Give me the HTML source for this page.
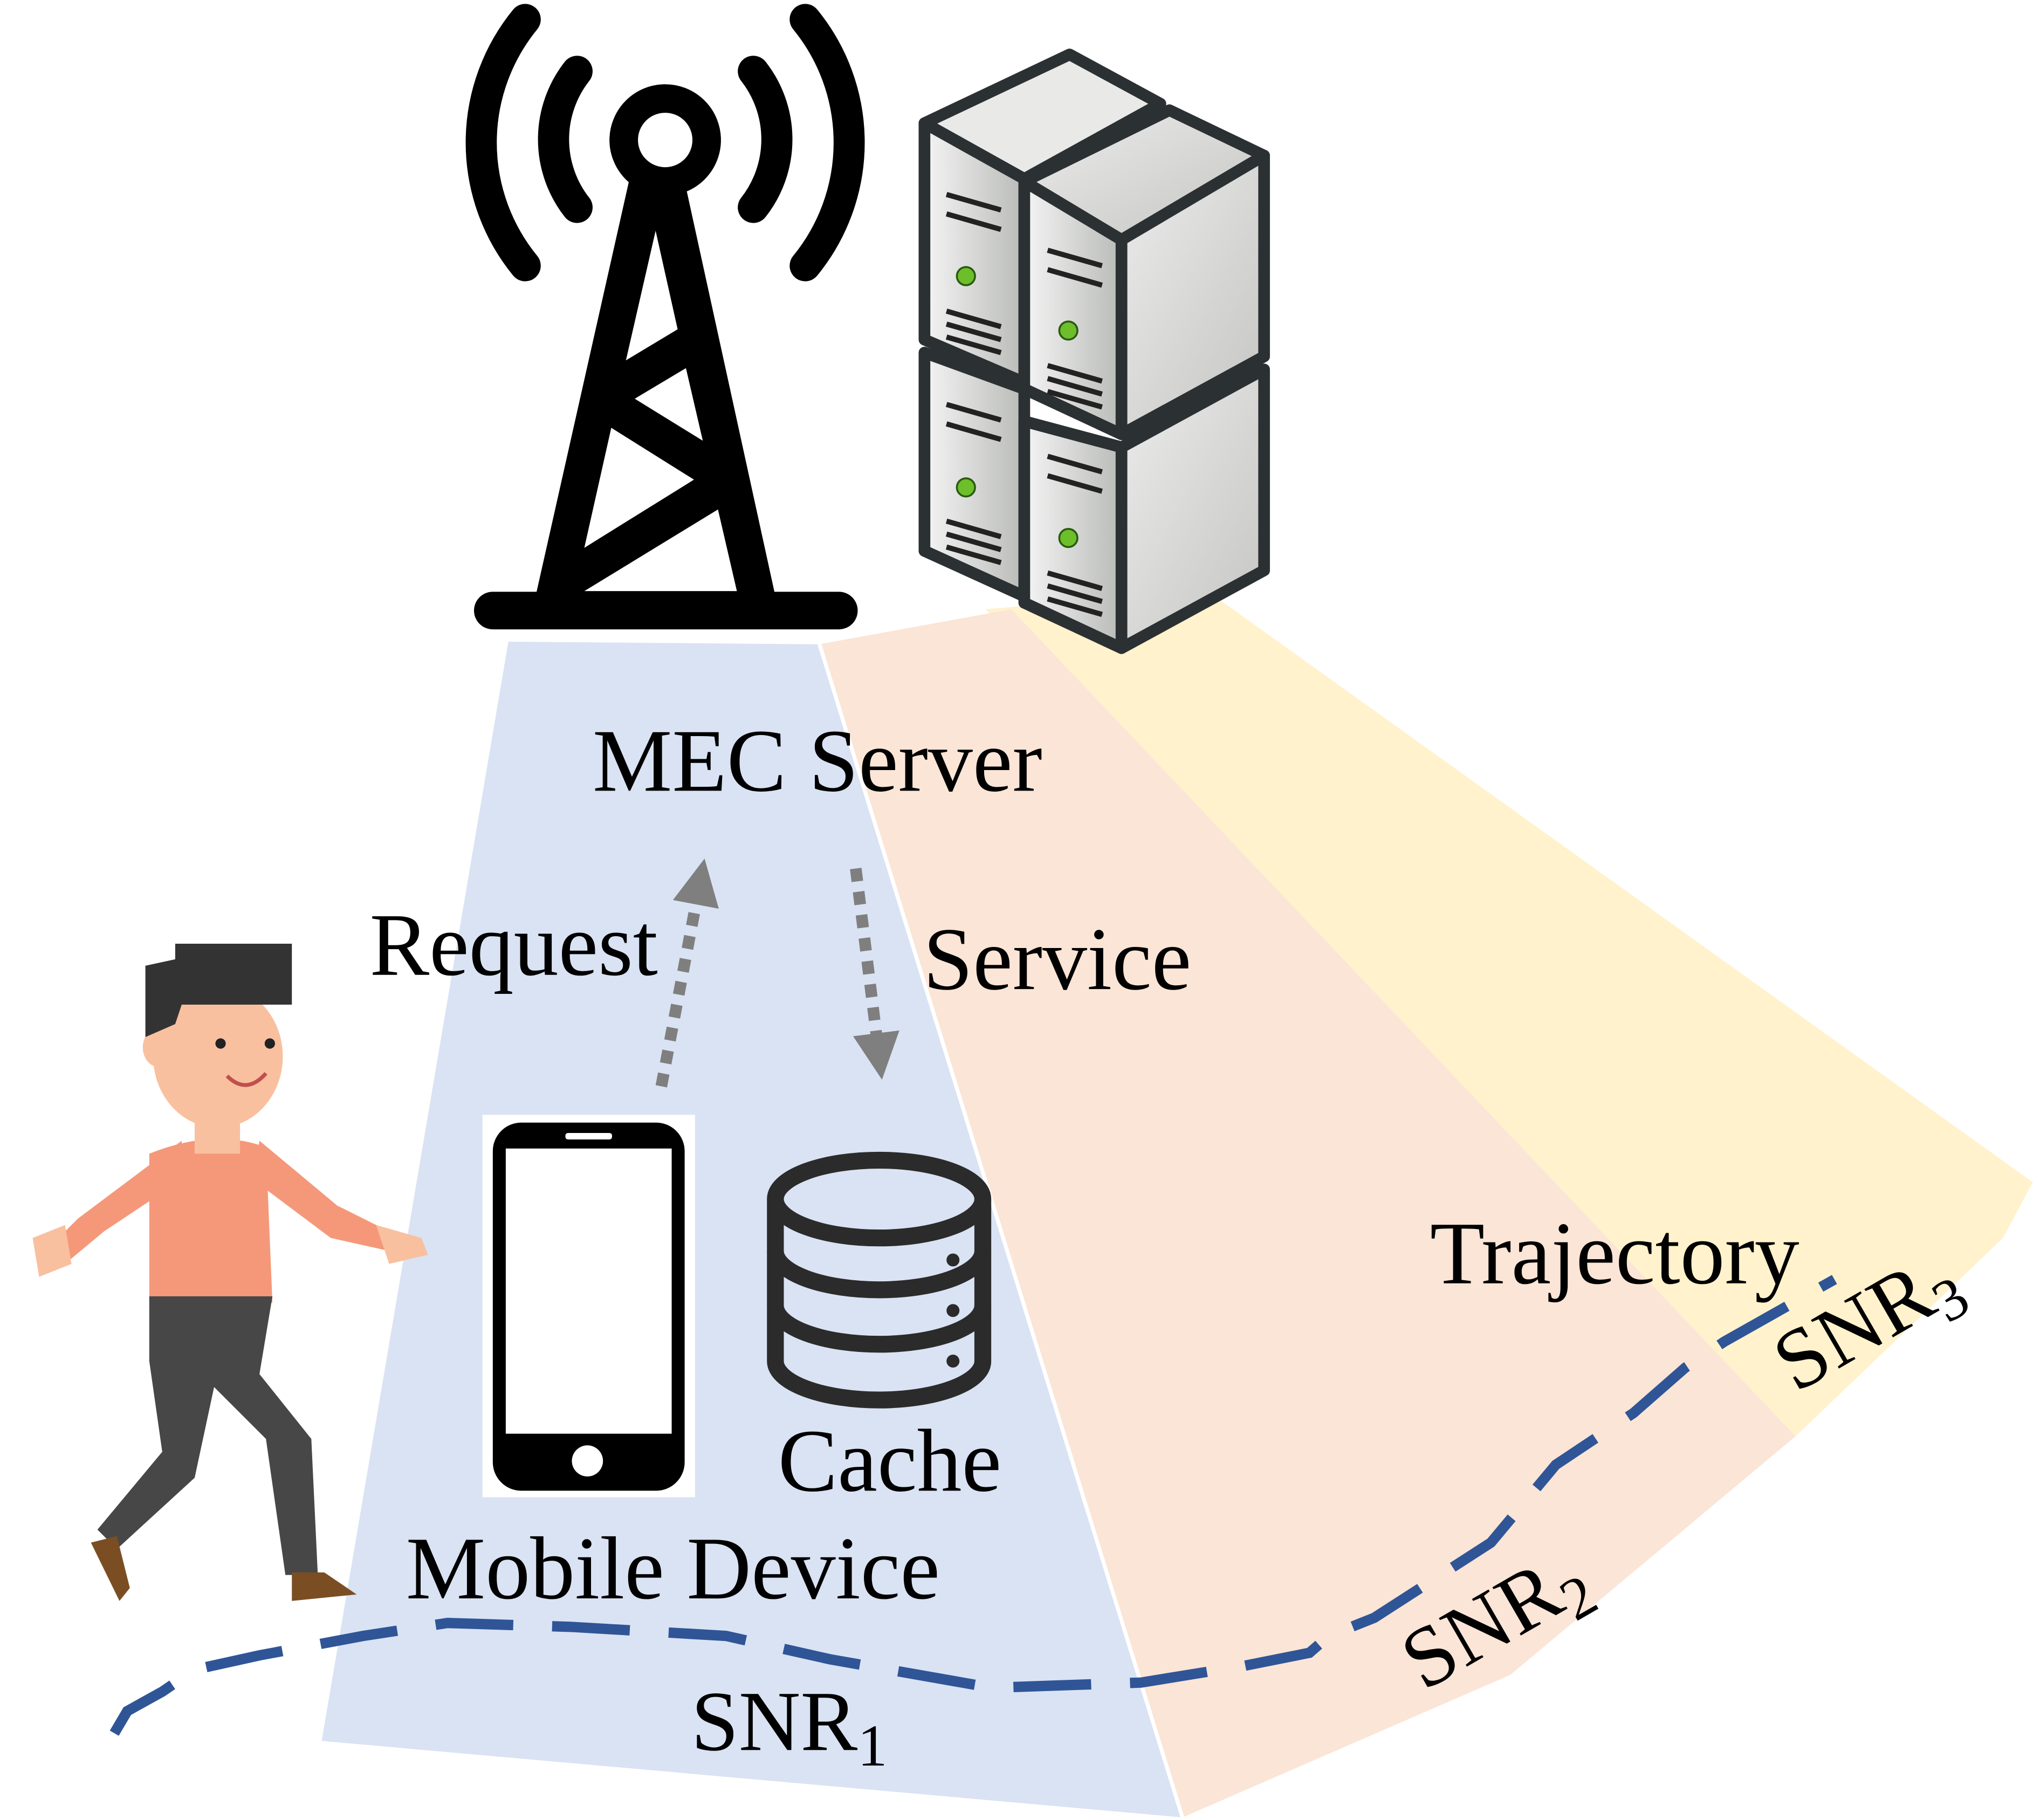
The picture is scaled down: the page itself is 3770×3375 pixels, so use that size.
<!DOCTYPE html>
<html><head><meta charset="utf-8"><style>
html,body{margin:0;padding:0;background:#fff}
svg{display:block}
text{font-family:"Liberation Serif",serif;fill:#000}
</style></head><body>
<svg width="3770" height="3375" viewBox="0 0 1568 1404" xmlns="http://www.w3.org/2000/svg">
<defs>
<marker id="ah" viewBox="0 0 10 10" refX="5" refY="5" markerWidth="4" markerHeight="4" orient="auto"><path d="M0,0 L10,5 L0,10 z" fill="#7f7f7f"/></marker>
<linearGradient id="fg" x1="0" x2="1"><stop offset="0" stop-color="#f4f4f4"/><stop offset="1" stop-color="#b9bbb8"/></linearGradient>
<linearGradient id="rg" x1="0" x2="1" y1="0" y2="1"><stop offset="0" stop-color="#ececec"/><stop offset="1" stop-color="#c4c5c2"/></linearGradient>
</defs>
<!-- regions -->
<polygon points="760,470 930,455 1568,912 1545,955 1385,1108" fill="#fff2cc"/>
<polygon points="632,497 780,470 1385,1108 1165,1292 912,1402" fill="#fbe5d6"/>
<polygon points="392,495 632,497 912,1402 248,1343" fill="#dae3f3"/>
<line x1="632" y1="497" x2="912" y2="1402" stroke="#fff" stroke-width="3"/>
<!-- tower -->
<g fill="none" stroke="#000" stroke-linecap="round">
<path d="M405,205 A150,150 0 0 1 405,15" stroke-width="24"/>
<path d="M621,205 A150,150 0 0 0 621,15" stroke-width="24"/>
<path d="M445,160 A85,85 0 0 1 445,55" stroke-width="24"/>
<path d="M581,160 A85,85 0 0 0 581,55" stroke-width="24"/>
<line x1="380" y1="471" x2="647" y2="471" stroke-width="29"/>
</g>
<circle cx="513" cy="108" r="32" fill="none" stroke="#000" stroke-width="22"/>
<path fill="#000" fill-rule="evenodd" d="M485,140 L528,140 L598,460 L413,460 Z
M505.6,178 L522.6,254 L482.7,278 Z
M529,284 L489.5,307.6 L542,340 Z
M471.4,330 L535.2,370 L450.6,422.6 Z
M553.7,393 L568.3,456 L450.6,456 Z"/>
<!-- servers -->
<g stroke="#2b3033" stroke-width="9" stroke-linejoin="round">
<polygon points="713,95 825,42 895,80 790,138" fill="#e9e9e8"/>
<polygon points="713,95 790,138 790,295 713,262" fill="url(#fg)"/>
<polygon points="713,272 790,300 790,460 713,425" fill="url(#fg)"/>
<polygon points="790,140 902,85 975,120 865,185" fill="url(#rg)"/>
<polygon points="790,140 865,185 865,335 790,300" fill="url(#fg)"/>
<polygon points="865,185 975,120 975,275 865,335" fill="url(#rg)"/>
<polygon points="790,325 865,345 865,500 790,465" fill="url(#fg)"/>
<polygon points="865,345 975,285 975,440 865,500" fill="url(#rg)"/>
</g>
<g fill="#6cbf2a" stroke="#2b5a10" stroke-width="1.5">
<circle cx="745" cy="213" r="7"/><circle cx="745" cy="376" r="7"/><circle cx="824" cy="255" r="7"/><circle cx="824" cy="415" r="7"/>
</g>
<g stroke="#222" stroke-width="4">
<path d="M730,150 L772,162 M730,165 L772,177 M730,240 L772,252 M730,250 L772,262 M730,260 L772,272"/>
<path d="M730,312 L772,324 M730,327 L772,339 M730,402 L772,414 M730,412 L772,424 M730,422 L772,434"/>
<path d="M808,193 L850,205 M808,208 L850,220 M808,282 L850,294 M808,292 L850,304 M808,302 L850,314"/>
<path d="M808,352 L850,364 M808,367 L850,379 M808,442 L850,454 M808,452 L850,464 M808,462 L850,474"/>
</g>
<!-- person -->
<g>
<path d="M140,880 L60,940 L35,965 L50,975 L80,950 L140,910 Z" fill="#f5987a"/>
<path d="M200,880 L260,930 L300,950 L300,965 L255,955 L195,910 Z" fill="#f5987a"/>
<path d="M115,890 Q165,870 205,885 L210,1005 L115,1005 Z" fill="#f5987a"/>
<path d="M115,1000 L210,1000 L200,1060 L240,1110 L245,1215 L220,1215 L205,1110 L165,1070 L150,1140 L90,1195 L75,1180 L125,1120 L115,1050 Z" fill="#474747"/>
<path d="M225,1213 L250,1213 L275,1230 L225,1235 Z" fill="#7a4e22"/>
<path d="M70,1190 L90,1185 L100,1225 L92,1235 Z" fill="#7a4e22"/>
<path d="M25,955 L50,945 L55,975 L30,985 Z" fill="#f9c09f"/>
<path d="M290,945 L325,955 L330,968 L300,975 Z" fill="#f9c09f"/>
<rect x="150" y="860" width="35" height="30" fill="#f9c09f"/>
<ellipse cx="168" cy="815" rx="50" ry="55" fill="#f9c09f"/>
<ellipse cx="122" cy="808" rx="12" ry="15" fill="#f9c09f"/>
<path d="M112,800 L112,745 L135,740 L135,728 L225,728 L225,775 L140,775 L135,790 Z" fill="#333"/>
<circle cx="170" cy="805" r="4" fill="#222"/><circle cx="208" cy="805" r="4" fill="#222"/>
<path d="M175,830 Q190,845 205,828" stroke="#c0504d" stroke-width="3" fill="none"/>
</g>
<!-- phone -->
<rect x="372" y="860" width="164" height="295" fill="#fff"/>
<rect x="380" y="866" width="148" height="284" rx="22" fill="#000"/>
<rect x="390" y="886" width="128" height="220" fill="#fff"/>
<circle cx="453" cy="1127" r="12" fill="#fff"/>
<rect x="436" y="874" width="36" height="5" rx="2" fill="#fff"/>
<!-- cache -->
<g fill="none" stroke="#2b2b2b" stroke-width="13">
<ellipse cx="678" cy="925" rx="80" ry="30"/>
<path d="M598,925 V1050 A80,30 0 0 0 758,1050 V925"/>
<path d="M598,965 A80,30 0 0 0 758,965"/>
<path d="M598,1007 A80,30 0 0 0 758,1007"/>
</g>
<circle cx="735" cy="972" r="5" fill="#2b2b2b"/><circle cx="735" cy="1011" r="5" fill="#2b2b2b"/><circle cx="735" cy="1050" r="5" fill="#2b2b2b"/>
<!-- arrows -->
<line x1="510" y1="838" x2="540" y2="680" stroke="#7f7f7f" stroke-width="9" stroke-dasharray="10,8" marker-end="url(#ah)"/>
<line x1="660" y1="670" x2="678" y2="815" stroke="#7f7f7f" stroke-width="9" stroke-dasharray="10,8" marker-end="url(#ah)"/>
<!-- trajectory -->
<path d="M88,1337 L98,1320 L125,1305 L150,1288 L200,1277 L280,1262 L345,1252 L440,1255 L560,1262 L640,1280 L765,1302 L880,1298 L960,1285 L1010,1275 L1025,1262 L1060,1248 L1150,1190 L1200,1130 L1260,1090 L1300,1055 L1330,1035 L1415,987" fill="none" stroke="#2f5597" stroke-width="8" stroke-dasharray="60,30"/>
<!-- labels -->
<text x="457" y="610" font-size="69">MEC Server</text>
<text x="285" y="752" font-size="69">Request</text>
<text x="712" y="763" font-size="69">Service</text>
<text x="600" y="1150" font-size="69">Cache</text>
<text x="313" y="1233" font-size="69">Mobile Device</text>
<text x="1103" y="990" font-size="69">Trajectory</text>
<text x="533" y="1350" font-size="66">SNR<tspan font-size="46" dy="12">1</tspan></text>
<text transform="translate(1098,1305) rotate(-30)" font-size="66">SNR<tspan font-size="46" dy="12">2</tspan></text>
<text transform="translate(1385,1075) rotate(-30)" font-size="66">SNR<tspan font-size="46" dy="12">3</tspan></text>
</svg>
</body></html>
